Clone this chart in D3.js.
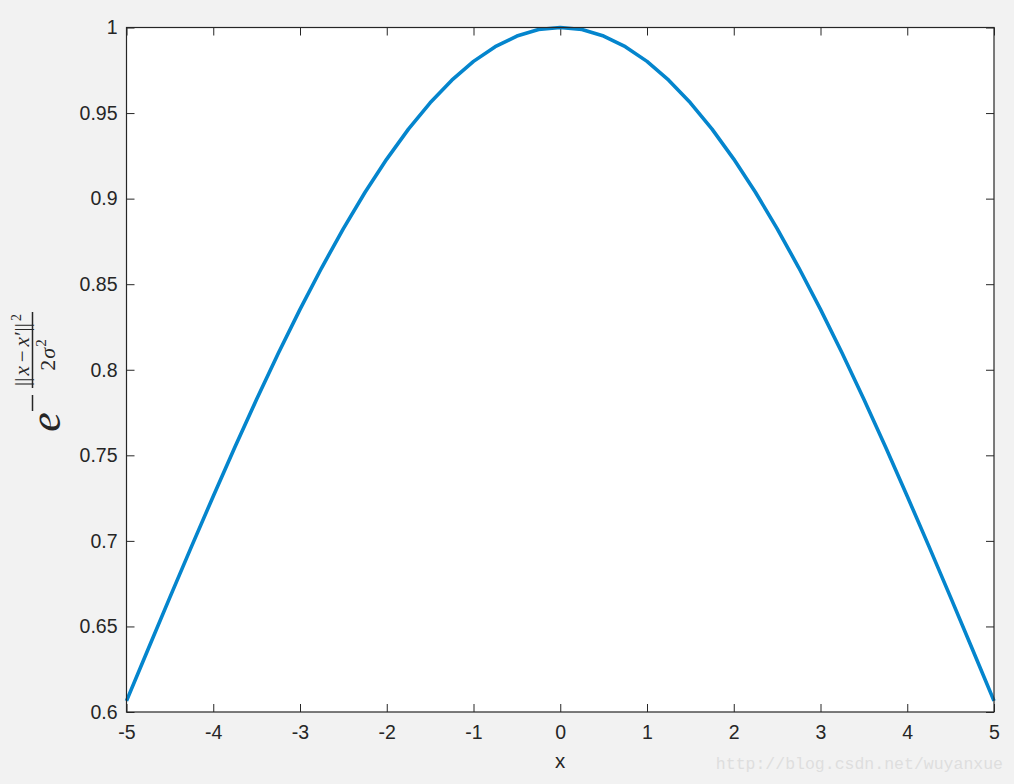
<!DOCTYPE html>
<html><head><meta charset="utf-8">
<script src="https://cdn.jsdelivr.net/npm/d3@7"></script>
<style>
html,body{margin:0;padding:0;background:#f2f2f2;}
svg{display:block;}
</style></head>
<body>
<svg id="c" width="1014" height="784"></svg>
<script>
// Data
const xValues = [-5,-4.75,-4.5,-4.25,-4,-3.75,-3.5,-3.25,-3,-2.75,-2.5,-2.25,-2,-1.75,-1.5,-1.25,-1,-0.75,-0.5,-0.25,0,
                 0.25,0.5,0.75,1,1.25,1.5,1.75,2,2.25,2.5,2.75,3,3.25,3.5,3.75,4,4.25,4.5,4.75,5];
const yValues = [0.6065,0.6368,0.6670,0.6968,0.7261,0.7548,0.7827,0.8096,0.8353,0.8596,0.8825,0.9037,0.9231,0.9406,0.9560,0.9692,0.9802,0.9888,0.9950,0.9988,1.0000,
                 0.9988,0.9950,0.9888,0.9802,0.9692,0.9560,0.9406,0.9231,0.9037,0.8825,0.8596,0.8353,0.8096,0.7827,0.7548,0.7261,0.6968,0.6670,0.6368,0.6065];
const xTicks = [-5,-4,-3,-2,-1,0,1,2,3,4,5];
const xTickLabels = ["-5","-4","-3","-2","-1","0","1","2","3","4","5"];
const yTicks = [0.6,0.65,0.7,0.75,0.8,0.85,0.9,0.95,1];
const yTickLabels = ["0.6","0.65","0.7","0.75","0.8","0.85","0.9","0.95","1"];

const svg = d3.select("#c");
const L = 126.5, R = 994, T = 27.5, B = 712;
const x = d3.scaleLinear().domain([-5,5]).range([L,R]);
const y = d3.scaleLinear().domain([0.6,1]).range([B,T]);
const axisColor = "#262626";
const font = "'Liberation Sans', Arial, Helvetica, sans-serif";

svg.append("rect").attr("width",1014).attr("height",784).attr("fill","#f2f2f2");
svg.append("rect").attr("x",L).attr("y",T).attr("width",R-L).attr("height",B-T).attr("fill","#ffffff");

function style(g){
  g.select(".domain").remove();
  g.selectAll(".tick line").attr("stroke",axisColor).attr("stroke-width",1);
  g.selectAll(".tick text").attr("fill",axisColor).attr("font-family",font).attr("font-size","19.5px");
}
// bottom axis
svg.append("g").attr("transform",`translate(0,${B})`)
  .call(d3.axisBottom(x).tickValues(xTicks).tickFormat((d,i)=>xTickLabels[i]).tickSizeInner(-8).tickSizeOuter(0).tickPadding(13))
  .call(style);
// top axis ticks
svg.append("g").attr("transform",`translate(0,${T})`)
  .call(d3.axisTop(x).tickValues(xTicks).tickFormat("").tickSizeInner(-8).tickSizeOuter(0))
  .call(style);
// left axis
svg.append("g").attr("transform",`translate(${L},0)`)
  .call(d3.axisLeft(y).tickValues(yTicks).tickFormat((d,i)=>yTickLabels[i]).tickSizeInner(-8).tickSizeOuter(0).tickPadding(9))
  .call(style);
// right axis ticks
svg.append("g").attr("transform",`translate(${R},0)`)
  .call(d3.axisRight(y).tickValues(yTicks).tickFormat("").tickSizeInner(-8).tickSizeOuter(0))
  .call(style);

// curve
const line = d3.line().x((d,i)=>x(xValues[i])).y(d=>y(d));
svg.append("path").datum(yValues).attr("d",line)
  .attr("fill","none").attr("stroke","#0485cd").attr("stroke-width",3.6)
  .attr("stroke-linejoin","round").attr("stroke-linecap","butt");

// box
svg.append("rect").attr("x",L).attr("y",T).attr("width",R-L).attr("height",B-T)
  .attr("fill","none").attr("stroke",axisColor).attr("stroke-width",1.2);

// x label
svg.append("text").attr("x",560).attr("y",768).attr("text-anchor","middle")
  .attr("font-family",font).attr("font-size","20.5px").attr("fill",axisColor).text("x");

// y label (rotated LaTeX-like expression)
const serif = "'Liberation Serif', 'DejaVu Serif', serif";
const yl = svg.append("g").attr("transform","rotate(-90)").attr("fill",axisColor);
yl.append("text").attr("x",-422).attr("y",60).attr("text-anchor","middle")
  .attr("font-family",serif).attr("font-style","italic").attr("font-size","44px").text("e");
yl.append("line").attr("x1",-411).attr("x2",-395).attr("y1",32.5).attr("y2",32.5)
  .attr("stroke",axisColor).attr("stroke-width",1.5);
yl.append("line").attr("x1",-388).attr("x2",-312).attr("y1",32.5).attr("y2",32.5)
  .attr("stroke",axisColor).attr("stroke-width",1.5);
const num = yl.append("text").attr("x",-350).attr("y",29).attr("text-anchor","middle")
  .attr("font-family",serif).attr("font-size","21px");
num.append("tspan").text("||");
num.append("tspan").attr("dx",2).attr("font-style","italic").text("x");
num.append("tspan").attr("dx",4).text("\u2212");
num.append("tspan").attr("dx",4).attr("font-style","italic").text("x\u2032");
num.append("tspan").attr("dx",1).text("||");
num.append("tspan").attr("dx",2).attr("font-size","14px").attr("dy","-8").text("2");
const den = yl.append("text").attr("x",-355).attr("y",55).attr("text-anchor","middle")
  .attr("font-family",serif).attr("font-size","22px");
den.append("tspan").text("2");
den.append("tspan").attr("dx",1).attr("font-style","italic").text("\u03c3");
den.append("tspan").attr("dx",1).attr("font-size","15px").attr("dy","-9").text("2");

// watermark
svg.append("text").attr("x",1003).attr("y",769).attr("text-anchor","end")
  .attr("font-family","'Liberation Mono', 'DejaVu Sans Mono', monospace").attr("font-size","16.5px")
  .attr("fill","#dedede").text("http://blog.csdn.net/wuyanxue");
</script>
</body></html>
